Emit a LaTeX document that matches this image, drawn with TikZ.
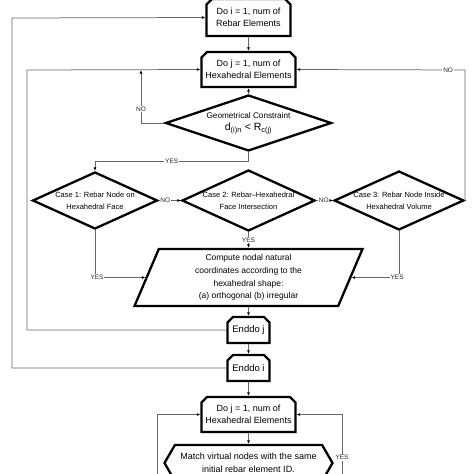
\documentclass[tikz,border=0pt]{standalone}
\usepackage{fontspec}
\setmainfont{Liberation Sans}
\usepackage{tikz}
\usetikzlibrary{arrows.meta,positioning,calc,shapes.geometric,shapes.misc,shapes.symbols}
\definecolor{LineGray}{HTML}{666666}

\begin{document}
\begin{tikzpicture}[x=1pt, y=-1pt, >=Latex,
  every node/.style={font=\fontsize{9}{12.5}\selectfont, align=center},
  loopbox/.style={chamfered rectangle, chamfered rectangle corners={north west,north east}, chamfered rectangle sep=2.8pt, draw, line width=2.3pt, fill=white, inner sep=0pt},
  decision/.style={diamond, draw, line width=2.3pt, fill=white, inner sep=0pt, font=\fontsize{7.5}{12}\selectfont},
  flow/.style={draw=LineGray, line width=0.75pt, -{Latex[length=3.5pt,width=3pt,color=black]}},
  tag/.style={fill=white, inner sep=0.8pt, text=black!85, font=\fontsize{6.5}{7}\selectfont}]
  \useasboundingbox (0,0) rectangle (474,474);
  \clip (0,0) rectangle (474,474);
  % first loop and the check
  \node[loopbox, minimum width=84pt, minimum height=37pt] (doi) at (248.5,17.5) {Do i = 1, num of\\Rebar Elements};
  \node[loopbox, minimum width=94pt, minimum height=35pt] (doj) at (248.5,69.5) {Do j = 1, num of\\Hexahedral Elements};
  \node[decision, minimum width=166pt, minimum height=56pt, shape aspect=3] (geo) at (248.5,123) {{\fontsize{8.2}{11}\selectfont Geometrical Constraint}\\{\fontsize{10.5}{13}\selectfont d\textsubscript{(i)n} < R\textsubscript{c(j)}}};
  % the three cases
  \node[decision, minimum width=125pt, minimum height=57pt, shape aspect=2.2] (c1) at (95,200.5) {Case 1: Rebar Node on\\Hexahedral Face};
  \node[decision, minimum width=133pt, minimum height=61pt, shape aspect=2.18] (c2) at (248.5,200.5) {Case 2: Rebar--Hexahedral\\Face Intersection};
  \node[decision, minimum width=128pt, minimum height=57pt, shape aspect=2.2] (c3) at (399,200.5) {Case 3: Rebar Node Inside\\Hexahedral Volume};
  \node[trapezium, trapezium left angle=62, trapezium right angle=118, trapezium stretches body, draw, line width=2.3pt, fill=white, inner sep=0pt, minimum width=228pt, minimum height=57pt, font=\fontsize{8.5}{12.6}\selectfont] (comp) at (248.5,277.5) {Compute nodal natural\\coordinates according to the\\hexahedral shape:\\(a) orthogonal (b) irregular};
  % loop ends and second loop
  \node[loopbox, minimum width=42pt, minimum height=26pt, font=\fontsize{9.5}{12}\selectfont] (endj) at (248.5,330) {Enddo j};
  \node[loopbox, minimum width=42pt, minimum height=26pt, font=\fontsize{9.5}{12}\selectfont] (endi) at (248.5,368) {Enddo i};
  \node[loopbox, minimum width=94pt, minimum height=35pt] (doj2) at (248.5,414.5) {Do j = 1, num of\\Hexahedral Elements};
  \node[signal, signal to=west and east, signal pointer angle=120, draw, line width=2.3pt, fill=white, inner sep=0pt, minimum width=168pt, minimum height=36pt, font=\fontsize{9}{13}\selectfont] (match) at (248.5,463) {Match virtual nodes with the same\\initial rebar element ID.};
  \coordinate (noup) at (141,70);
  \coordinate (inL) at (27,70);
  \coordinate (outL) at (12,18);
  \coordinate (ret) at (465,70);
  \coordinate (botL) at (157,480);
  \coordinate (botR) at (342,480);
  \foreach \a/\b in {doi/doj, geo/doj, comp/endj, endj/endi, endi/doj2, doj2/match} {\draw[flow] (\a) -- (\b);}
  \draw[flow] (geo.west) -| (noup) node[tag, pos=0.63] {NO};
  \draw[flow] (geo.south) -- ++(0,9) -| (c1.north) node[tag, pos=0.25] {YES};
  \draw[flow] (c1.east) -- (c2.west) node[tag, pos=0.3] {NO};
  \draw[flow] (c2.east) -- (c3.west) node[tag, pos=0.45] {NO};
  \draw[flow] (c2) -- (comp) node[tag, midway] {YES};
  \draw[flow] (c1.south) |- (comp.west) node[tag, pos=0.52] {YES};
  \draw[flow] (c3.south) |- (comp.east) node[tag, pos=0.52] {YES};
  \draw[flow] (c3.east) -| (ret) -- (doj.east) node[tag, pos=0.1] {NO};
  \draw[flow] (endj.west) -| (inL) -- (doj.west);
  \draw[flow] (endi.west) -| (outL) -- (doi.west);
  \draw[flow] (botL) |- (doj2.west);
  \draw[flow] (botR) |- (doj2.east) node[tag, pos=0.17] {YES};
\end{tikzpicture}
\end{document}
